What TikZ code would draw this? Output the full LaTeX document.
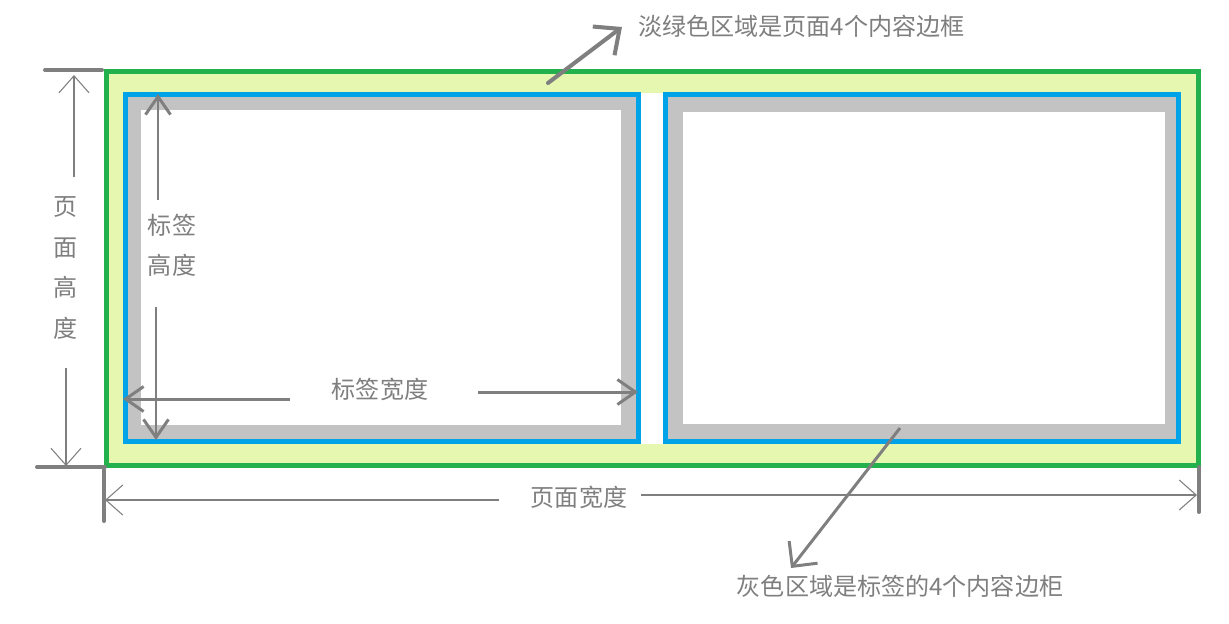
\documentclass[tikz,border=0pt]{standalone}
\usepackage{fontspec}
\setmainfont{Noto Sans CJK SC}
\usetikzlibrary{arrows.meta}
\definecolor{pagegreen}{HTML}{22B14C}
\definecolor{pagefill}{HTML}{E6F7B0}
\definecolor{labelblue}{HTML}{00A2E8}
\definecolor{labelgray}{HTML}{C3C3C3}
\definecolor{notegray}{HTML}{7F7F7F}
\tikzset{
  note/.style={text=notegray, inner sep=0pt, font=\fontsize{13.7pt}{16pt}\selectfont},
  bigarrow/.style={notegray, line width=2.3pt, line cap=round, -{Straight Barb[length=0.4cm, width=0.72cm]}},
  midarrow/.style={notegray, line width=1.7pt, -{Straight Barb[length=0.36cm, width=0.5cm]}},
  thinarrow/.style={notegray, line width=0.6pt, -{Straight Barb[length=0.34cm, width=0.6cm, line width=0.6pt]}},
  tick/.style={notegray, line width=2.3pt, line cap=round}
}

\begin{document}
\begin{tikzpicture}[x=0.02cm,y=-0.02cm]

    \useasboundingbox (0,0) rectangle (1229,623);

    % page with its content border
    \fill[pagefill] (106.5,71.5) rectangle (1198,465.5);
    \fill[white] (638,93) rectangle (664,444);

    % label 1
    \fill[labelgray] (125.5,94.5) rectangle (638,441.5);
    \fill[white] (141,110) rectangle (621,425);
    \draw[labelblue, line width=2.85pt] (125.5,94.5) rectangle (638,441.5);

    % label 2
    \fill[labelgray] (665.5,94.5) rectangle (1178.5,441.5);
    \fill[white] (683,112) rectangle (1165,424);
    \draw[labelblue, line width=2.85pt] (665.5,94.5) rectangle (1178.5,441.5);

    \draw[pagegreen, line width=2.85pt] (106.5,71.5) rectangle (1198,465.5);

    % ticks:
    \draw[tick] (45,70) -- (102,70);
    \draw[tick] (37,467) -- (105,467);
    \draw[tick] (104,470) -- (104,521);
    \draw[tick] (1199,467) -- (1199,512);

    % page height
    \node[note, align=center, font=\fontsize{13.7pt}{23.3pt}\selectfont] (pageheight) at (66,268) {页\\面\\高\\度};
    \coordinate (phtop) at (74,75);
    \coordinate (phbot) at (66,466);
    \draw[thinarrow] (74,177) -- (phtop);
    \draw[thinarrow] (66,368) -- (phbot);

    % page width
    \node[note] (pagewidth) at (579,497) {页面宽度};
    \coordinate (pwleft) at (105,500);
    \coordinate (pwright) at (1197,495);
    \draw[thinarrow] (499,500) -- (pwleft);
    \draw[thinarrow] (641,495) -- (pwright);

    % label height
    \node[note, align=center, font=\fontsize{13.7pt}{22.8pt}\selectfont] (labelheight) at (172,245) {标签\\高度};
    \coordinate (lhtop) at (158,94);
    \coordinate (lhbot) at (156,440);
    \draw[midarrow] (158,200) -- (lhtop);
    \draw[midarrow] (156,307) -- (lhbot);

    % label width
    \node[note] (labelwidth) at (380,389) {标签宽度};
    \coordinate (lwleft) at (123,399);
    \coordinate (lwright) at (638,392);
    \draw[midarrow] (290,399) -- (lwleft);
    \draw[midarrow] (478,392) -- (lwright);

    % notes
    \node[note, anchor=west] (greennote) at (638,26) {淡绿色区域是页面4个内容边框};
    \coordinate (greenstart) at (548,83);
    \draw[bigarrow] (greenstart) -- (622,27);

    \node[note] (graynote) at (900,586) {灰色区域是标签的4个内容边柜};
    \coordinate (graystart) at (900,428);
    \draw[midarrow, -{Straight Barb[length=0.36cm, width=0.72cm]}] (graystart) -- (791,568);

\end{tikzpicture}
\end{document}
